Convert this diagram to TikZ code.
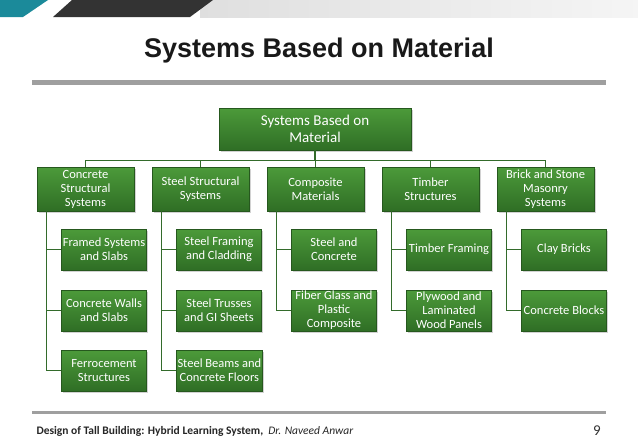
\documentclass[tikz,border=0pt]{standalone}
\usepackage{fontspec}
\setmainfont{Carlito}
\newfontfamily\arialf{Liberation Sans}
\usetikzlibrary{positioning,shadows}
\definecolor{boxtop}{HTML}{4C9A3A}
\definecolor{boxbot}{HTML}{2F6E25}
\definecolor{linegreen}{HTML}{336B2B}
\definecolor{barteal}{HTML}{1B8A9A}
\tikzset{
  gbox/.style={draw=boxbot!80!black, top color=boxtop, bottom color=boxbot,
    text=white, align=center, font=\fontsize{12.5}{14}\selectfont,
    drop shadow={shadow xshift=1.5pt,shadow yshift=-1.5pt,opacity=0.35},
    inner sep=1pt},
  colbox/.style={gbox, minimum width=97pt, minimum height=44pt},
  subbox/.style={gbox, minimum width=85pt, minimum height=41pt},
  link/.style={draw=linegreen, line width=1.2pt}
}
\begin{document}
\begin{tikzpicture}[x=1pt,y=-1pt]
\useasboundingbox (0,0) rectangle (638,447);
\fill[white] (0,0) rectangle (638,447);
% top banner
\shade[left color=gray!25, right color=gray!8] (200,0) rectangle (638,17);
\fill[barteal] (0,0) -- (48,0) -- (23,17) -- (0,17) -- cycle;
\fill[black!80] (72,0) -- (213,0) -- (190,17) -- (53,17) -- cycle;
\node[font=\arialf\bfseries\fontsize{27}{30}\selectfont, text=black!90] (title) at (319,51) {Systems Based on Material};
\fill[gray!75] (32,80) rectangle (606,85);

% tree
\node[gbox, minimum width=192pt, minimum height=42pt,
  font=\fontsize{15}{17}\selectfont] (root) at (315,129) {Systems Based on\\Material};

\foreach \name/\x/\txt in {col1/85.5/{Concrete\\Structural\\Systems},
    col2/200.5/{Steel Structural\\Systems}, col3/315.5/{Composite\\Materials},
    col4/430.5/{Timber\\Structures}, col5/545.5/{Brick and Stone\\Masonry\\Systems}}
  \node[colbox] (\name) at (\x,189) {\txt};

\foreach \name/\col/\row/\txt in {
    c1r1/col1/249.5/{Framed Systems\\and Slabs}, c1r2/col1/310.5/{Concrete Walls\\and Slabs},
    c1r3/col1/370.5/{Ferrocement\\Structures},
    c2r1/col2/249.5/{Steel Framing\\and Cladding}, c2r2/col2/310.5/{Steel Trusses\\and GI Sheets},
    c2r3/col2/370.5/{Steel Beams and\\Concrete Floors},
    c3r1/col3/249.5/{Steel and\\Concrete}, c3r2/col3/310.5/{Fiber Glass and\\Plastic\\Composite},
    c4r1/col4/249.5/{Timber Framing}, c4r2/col4/310.5/{Plywood and\\Laminated\\Wood Panels},
    c5r1/col5/249.5/{Clay Bricks}, c5r2/col5/310.5/{Concrete Blocks}}
{
  \node[subbox, anchor=west] (\name) at ([xshift=24.5pt]\col.west |- 0,\row) {\txt};
  \draw[link] ([xshift=10pt]\col.south west) |- (\name.west);
}

\foreach \name in {col1,col2,col3,col4,col5}
  \draw[link] (root.south) -- ++(0,10) -| (\name.north);

% footer
\fill[gray!75] (32,411) rectangle (606,414);
\node[anchor=west, font=\fontsize{11.5}{13}\selectfont, text=black!85] (foot) at (33,431)
  {\textbf{Design of Tall Building: Hybrid Learning System,}\ \ \textit{Dr. Naveed Anwar}};
\node[font=\fontsize{15}{17}\selectfont, text=black!80] (page) at (597,431) {9};
\end{tikzpicture}
\end{document}
